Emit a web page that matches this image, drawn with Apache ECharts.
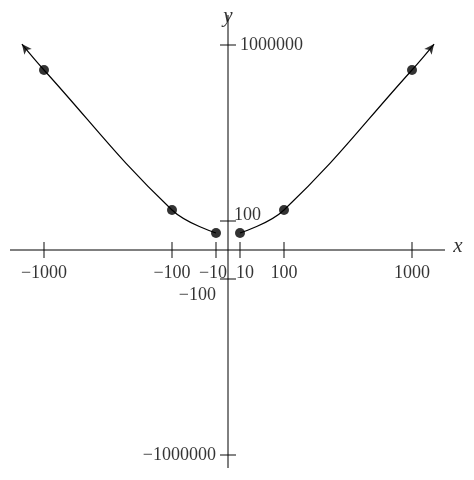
<!DOCTYPE html>
<html><head><meta charset="utf-8">
<script src="https://cdn.jsdelivr.net/npm/echarts@6/dist/echarts.min.js"></script>
<style>html,body{margin:0;padding:0;background:#fff}#c{width:474px;height:480px}</style>
</head><body><div id="c"></div>
<script>
const pointX = [-1000, -100, -10, 10, 100, 1000];
const pointY = [1000000, 10000, 100, 100, 10000, 1000000];
const leftCurveX = [-1170, -1000, -100, -10];
const leftCurveY = [1370000, 1000000, 10000, 100];
const rightCurveX = [10, 100, 1000, 1170];
const rightCurveY = [100, 10000, 1000000, 1370000];
const xTicks = [-1000, -100, -10, 10, 100, 1000];
const xTickLabels = ['−1000', '−100', '−10', '10', '100', '1000'];
const yTicks = [1000000, 100, -100, -1000000];
const yTickLabels = ['1000000', '100', '−100', '−1000000'];

// symmetric piecewise scale (display units)
const xAnch = [[0,0],[10,12],[100,56],[1000,184],[1200,210]];
const yAnch = [[0,0],[100,17],[10000,40],[1000000,180],[1400000,208]];
function tf(v, anch){
  const s = Math.sign(v), a = Math.abs(v);
  for (let i=1;i<anch.length;i++){
    if (a <= anch[i][0] || i===anch.length-1){
      const [a0,p0]=anch[i-1],[a1,p1]=anch[i];
      return s*(p0+(a-a0)/(a1-a0)*(p1-p0));
    }
  }
}
const TX = v=>tf(v,xAnch), TY = v=>tf(v,yAnch);
const font = 'Liberation Serif';
const chart = echarts.init(document.getElementById('c'));
const xTickData = xTicks.map((v,i)=>({value:[TX(v),0],label:{formatter:xTickLabels[i], offset:[(v===-10?-3:v===10?5:0),0]}}));
const yTickData = yTicks.map((v,i)=>{
  const pos = v>0?'right':'left';
  let val = TY(v);
  if (v===1000000||v===-1000000) val = v>0?205:-205;
  if (v===100) val = 29;
  if (v===-100) val = -29;
  return {value:[0,val],label:{formatter:yTickLabels[i],position:pos,
    offset: v===100?[-6,-6]:v===-100?[0,16]:[0,0]}};
});
chart.setOption({
  animation:false,
  grid:{left:0,right:0,top:0,bottom:0},
  xAxis:{type:'value',min:-228,max:246,axisLine:{show:false},axisTick:{show:false},axisLabel:{show:false},splitLine:{show:false}},
  yAxis:{type:'value',min:-230,max:250,axisLine:{show:false},axisTick:{show:false},axisLabel:{show:false},splitLine:{show:false}},
  series:[
    {type:'line',data:[[-218,0],[217,0]],symbol:'none',lineStyle:{color:'#000',width:1}},
    {type:'line',data:[[0,-218],[0,235]],symbol:'none',lineStyle:{color:'#000',width:1}},
    {type:'line',smooth:0.4,symbol:'none',data:leftCurveX.map((x,i)=>[TX(x),TY(leftCurveY[i])]),lineStyle:{color:'#000',width:1.2}},
    {type:'line',smooth:0.4,symbol:'none',data:rightCurveX.map((x,i)=>[TX(x),TY(rightCurveY[i])]),lineStyle:{color:'#000',width:1.2}},
    {type:'scatter',symbol:'arrow',symbolSize:[7,10],itemStyle:{color:'#000'},
     data:[{value:[TX(-1170),TY(1370000)],symbolRotate:38},{value:[TX(1170),TY(1370000)],symbolRotate:-38}]},
    {type:'scatter',symbol:'circle',symbolSize:10,itemStyle:{color:'#000'},
     data:pointX.map((x,i)=>[TX(x),TY(pointY[i])])},
    {type:'scatter',symbol:'rect',symbolSize:[1.2,16],itemStyle:{color:'#000'},
     label:{show:true,position:'bottom',distance:6,color:'#000',fontFamily:font,fontSize:18},
     data:xTickData},
    {type:'scatter',symbol:'rect',symbolSize:[16,1.2],itemStyle:{color:'#000'},
     label:{show:true,distance:4,color:'#000',fontFamily:font,fontSize:18},
     data:yTickData},
    {type:'scatter',symbolSize:0,data:[
      {value:[230,4],label:{show:true,formatter:'x',position:'inside',fontFamily:font,fontStyle:'italic',fontSize:21,color:'#000'}},
      {value:[0,234],label:{show:true,formatter:'y',position:'inside',fontFamily:font,fontStyle:'italic',fontSize:21,color:'#000'}}
    ]}
  ]
});
</script></body></html>
